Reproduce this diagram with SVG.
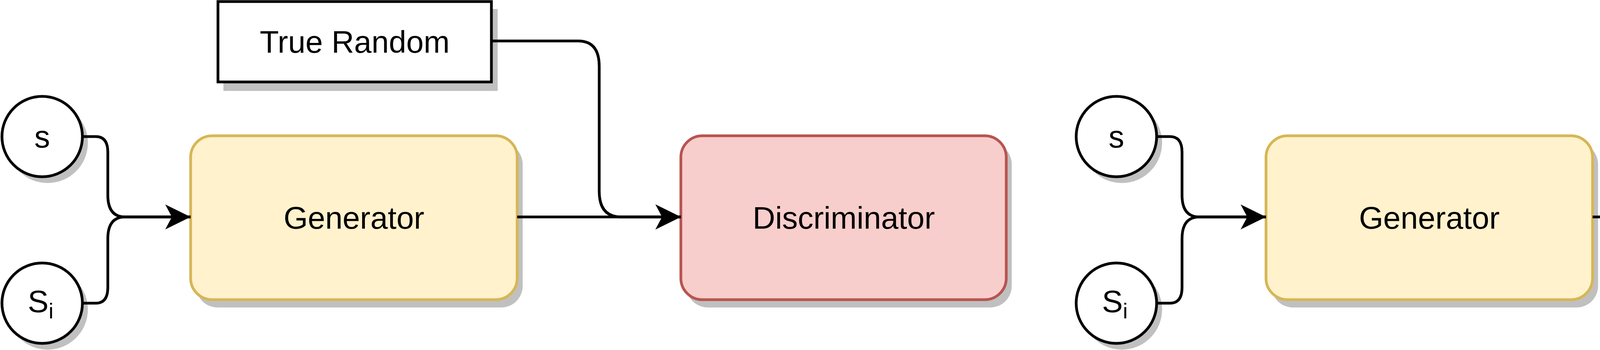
<svg xmlns="http://www.w3.org/2000/svg" width="5350" height="897" viewBox="0 0 5350 897">
<style>
.t{font-family:"Liberation Sans",Arial,sans-serif;font-size:80px;fill:#000;text-anchor:middle;dominant-baseline:central}
.sh{fill:#c0c0c0}
.c{fill:#fff;stroke:#000;stroke-width:7}
.gen{fill:#fff2cc;stroke:#d6b656;stroke-width:7}
.dis{fill:#f8cecc;stroke:#b85450;stroke-width:7}
.e{fill:none;stroke:#000;stroke-width:7}
</style>
<defs><marker id="a" markerWidth="66" markerHeight="64" refX="65" refY="32" orient="auto" markerUnits="userSpaceOnUse"><path d="M0,0 L65,32 L0,64 L17,32 Z" fill="#000"/></marker></defs>
<g id="s1"><circle class="sh" cx="122" cy="366" r="103"/><circle class="c" cx="108" cy="350" r="103"/><text class="t" x="108" y="350">s</text></g>
<g id="si1"><circle class="sh" cx="122" cy="793" r="103"/><circle class="c" cx="108" cy="777" r="103"/><text class="t" x="104" y="772">S<tspan font-size="56" dy="24">i</tspan></text></g>
<g id="tr"><rect class="sh" x="572" y="23" width="702" height="210"/><rect class="c" x="558" y="4" width="700" height="206"/><text class="t" x="908" y="107">True Random</text></g>
<g id="gen1"><rect class="sh" x="502" y="366" width="836" height="422" rx="55"/><rect class="gen" x="488" y="348" width="836" height="420" rx="55"/><text class="t" x="906" y="558">Generator</text></g>
<g id="dis"><rect class="sh" x="1757" y="366" width="833" height="422" rx="55"/><rect class="dis" x="1743" y="348" width="833" height="420" rx="55"/><text class="t" x="2160" y="558">Discriminator</text></g>
<g id="s2"><circle class="sh" cx="2872" cy="366" r="103"/><circle class="c" cx="2858" cy="350" r="103"/><text class="t" x="2858" y="350">s</text></g>
<g id="si2"><circle class="sh" cx="2872" cy="793" r="103"/><circle class="c" cx="2858" cy="777" r="103"/><text class="t" x="2854" y="772">S<tspan font-size="56" dy="24">i</tspan></text></g>
<g id="gen2"><rect class="sh" x="3255" y="366" width="836" height="422" rx="55"/><rect class="gen" x="3241" y="348" width="836" height="420" rx="55"/><text class="t" x="3659" y="558">Generator</text></g>
<g id="pred"><rect class="sh" x="4511" y="366" width="836" height="422" rx="55"/><rect class="dis" x="4497" y="348" width="836" height="420" rx="55"/><text class="t" x="4915" y="558">Predictor</text></g>
<g id="connectors">
<path class="e" d="M211,350 H245 Q276,350 276,390 V500 Q276,556 320,556 H488" marker-end="url(#a)"/>
<path class="e" d="M211,777 H245 Q276,777 276,737 V612 Q276,556 320,556 H488"/>
<path class="e" d="M1258,105 H1480 Q1534,105 1534,170 V490 Q1534,556 1590,556 H1743" marker-end="url(#a)"/>
<path class="e" d="M1324,556 H1743" marker-end="url(#a)"/>
<path class="e" d="M2961,350 H2995 Q3026,350 3026,390 V500 Q3026,556 3070,556 H3241" marker-end="url(#a)"/>
<path class="e" d="M2961,777 H2995 Q3026,777 3026,737 V612 Q3026,556 3070,556 H3241"/>
<path class="e" d="M4077,556 H4497" marker-end="url(#a)"/>
</g>
</svg>
